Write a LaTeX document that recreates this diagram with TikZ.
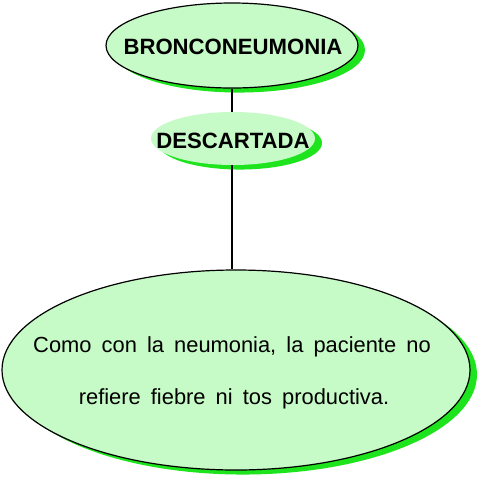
\documentclass[tikz,border=0pt]{standalone}
\usepackage{fontspec}
\setmainfont{Liberation Sans}
\usetikzlibrary{shapes.geometric,shadows}
\definecolor{cfill}{RGB}{198,250,198}
\definecolor{cshadow}{RGB}{30,228,30}
\newcommand\mywidespace{\spaceskip=7.6pt plus 1pt minus 1pt\relax}
\begin{document}
\begin{tikzpicture}[x=0.75pt,y=-0.75pt,
  bubble/.style={ellipse, fill=cfill, inner sep=0pt,
    drop shadow={shadow xshift=5.25pt, shadow yshift=-3.4pt, fill=cshadow, opacity=1}},
  outlined/.style={draw=black, line width=0.9pt},
  title/.style={font=\bfseries\fontsize{16.6}{20}\selectfont, inner sep=0pt, anchor=base},
  body/.style={font=\fontsize{16.4}{20}\selectfont, inner sep=0pt, anchor=base},
  link/.style={draw=black, line width=0.9pt}]
\useasboundingbox[fill=white] (0,0) rectangle (480,480);

\node (top) [bubble, outlined, minimum width=189pt, minimum height=63.75pt] at (232,45.5) {};
\node (desc) [bubble, minimum width=123pt, minimum height=39.75pt] at (233,138.5) {};
\node (big) [bubble, outlined, minimum width=351pt, minimum height=150pt] at (236,370) {};

\node (toptext) [title] at (233,54.3) {BRONCONEUMONIA};
\node (desctext) [title] at (233,148.3) {DESCARTADA};
\node (line1) [body] at (232,352.7) {\mywidespace Como con la neumonia, la paciente no};
\node (line2) [body] at (234,404) {\mywidespace refiere fiebre ni tos productiva.};

\draw[link] (top.south) -- (top.south |- desc.north);
\draw[link] (top.south |- desc.south) -- (top.south |- big.north);
\end{tikzpicture}
\end{document}
